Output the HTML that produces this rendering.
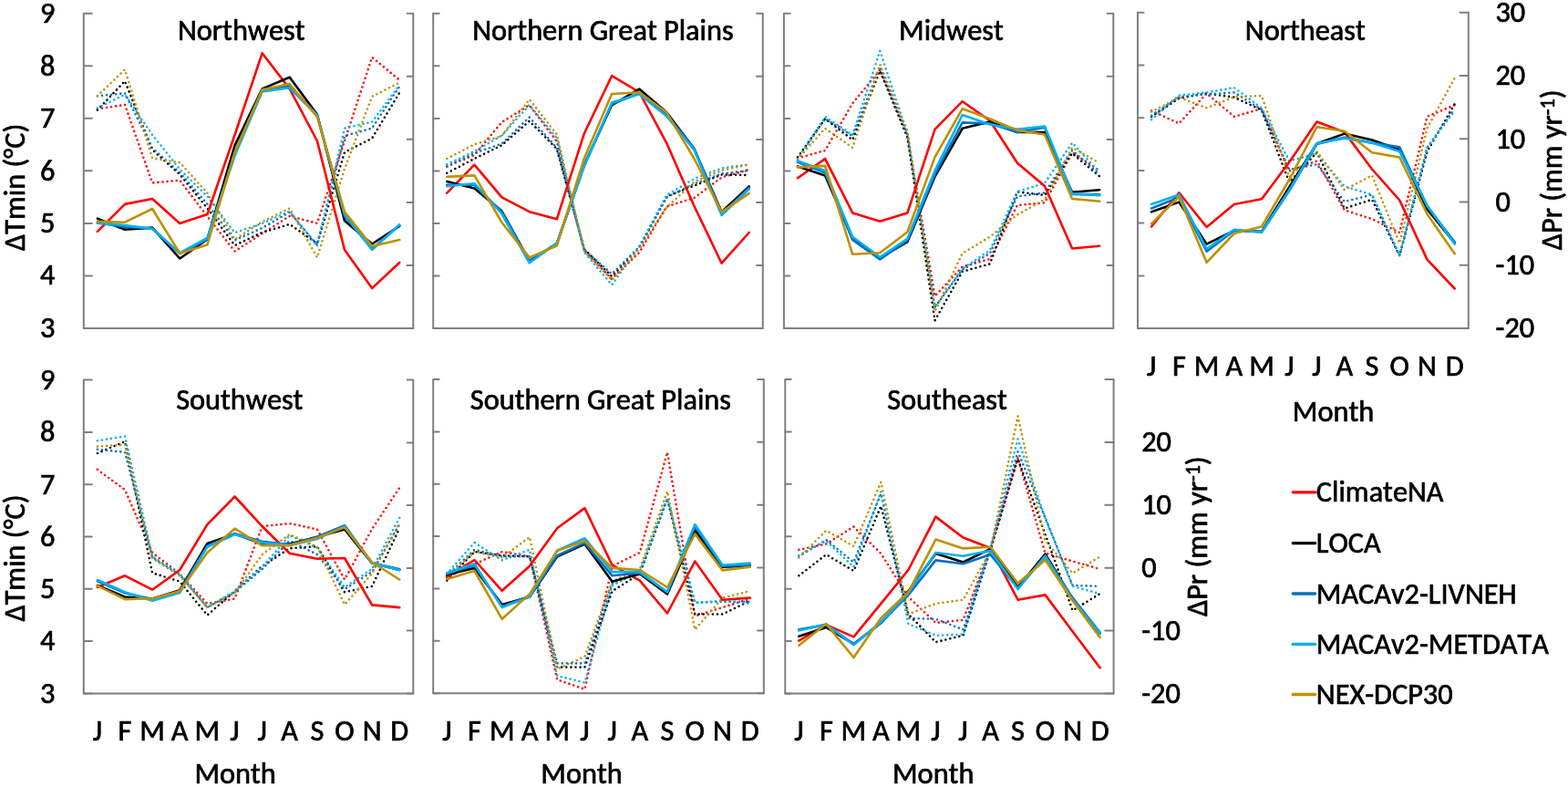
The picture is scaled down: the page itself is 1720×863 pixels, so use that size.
<!DOCTYPE html>
<html><head><meta charset="utf-8"><title>Figure</title>
<style>html,body{margin:0;padding:0;background:#fff;width:1720px;height:863px;overflow:hidden}svg{display:block}</style>
</head><body>
<svg width="1720" height="863" viewBox="0 0 1720 863">
<g font-family='Carlito, "Liberation Sans", sans-serif' font-size="32.3" fill="#000" stroke="#000" stroke-width="0.7" stroke-linejoin="round" style="font-kerning:none">
<path d="M91.8 14.7V360.0H453.3V14.7" fill="none" stroke="#7f7f7f" stroke-width="2" stroke-linejoin="round"/>
<path d="M91.8 14.7h9M91.8 72.2h9M91.8 129.8h9M91.8 187.3h9M91.8 244.9h9M91.8 302.4h9M91.8 360.0h9M453.3 14.7h-6.7M453.3 83.8h-6.7M453.3 152.8h-6.7M453.3 221.9h-6.7M453.3 290.9h-6.7M453.3 360.0h-6.7" stroke="#7f7f7f" stroke-width="2" stroke-linecap="round"/>
<text x="264.7" y="44.0" text-anchor="middle" textLength="139.55" lengthAdjust="spacingAndGlyphs">Northwest</text>
<polyline points="106.9,119.5 137.0,114.9 167.1,200.5 197.2,197.7 227.4,237.4 257.5,275.6 287.6,256.0 317.7,237.0 347.9,244.9 378.0,154.5 408.1,62.8 438.2,87.8" fill="none" stroke="#ff0000" stroke-width="2.6" stroke-dasharray="0 5.1" stroke-linecap="round"/>
<polyline points="106.9,120.6 137.0,88.9 167.1,164.3 197.2,191.2 227.4,228.3 257.5,269.1 287.6,254.9 317.7,245.9 347.9,267.1 378.0,167.0 408.1,151.7 438.2,101.7" fill="none" stroke="#000000" stroke-width="2.6" stroke-dasharray="0 5.1" stroke-linecap="round"/>
<polyline points="106.9,105.2 137.0,102.2 167.1,162.4 197.2,189.3 227.4,223.6 257.5,263.5 287.6,250.0 317.7,232.8 347.9,268.5 378.0,149.0 408.1,140.6 438.2,94.8" fill="none" stroke="#0070c0" stroke-width="2.6" stroke-dasharray="0 5.1" stroke-linecap="round"/>
<polyline points="106.9,118.5 137.0,103.7 167.1,147.8 197.2,185.6 227.4,215.3 257.5,255.2 287.6,245.0 317.7,231.7 347.9,269.9 378.0,140.6 408.1,133.7 438.2,93.4" fill="none" stroke="#00b0f0" stroke-width="2.6" stroke-dasharray="0 5.1" stroke-linecap="round"/>
<polyline points="106.9,105.2 137.0,76.3 167.1,173.6 197.2,178.2 227.4,211.6 257.5,262.6 287.6,243.3 317.7,228.5 347.9,282.4 378.0,185.0 408.1,105.9 438.2,90.6" fill="none" stroke="#bf9000" stroke-width="2.6" stroke-dasharray="0 5.1" stroke-linecap="round"/>
<polyline points="106.9,253.9 137.0,223.9 167.1,218.0 197.2,245.0 227.4,235.0 257.5,148.0 287.6,58.3 317.7,97.4 347.9,154.5 378.0,274.0 408.1,316.1 438.2,288.0" fill="none" stroke="#ff0000" stroke-width="2.6" stroke-linejoin="round" stroke-linecap="round"/>
<polyline points="106.9,239.7 137.0,251.8 167.1,249.6 197.2,283.5 227.4,262.5 257.5,159.6 287.6,97.4 317.7,84.7 347.9,125.5 378.0,242.1 408.1,267.5 438.2,248.0" fill="none" stroke="#000000" stroke-width="2.6" stroke-linejoin="round" stroke-linecap="round"/>
<polyline points="106.9,244.4 137.0,248.6 167.1,250.7 197.2,278.1 227.4,262.3 257.5,168.0 287.6,98.0 317.7,94.2 347.9,126.0 378.0,237.0 408.1,272.9 438.2,247.1" fill="none" stroke="#0070c0" stroke-width="2.6" stroke-linejoin="round" stroke-linecap="round"/>
<polyline points="106.9,244.4 137.0,247.1 167.1,250.7 197.2,277.5 227.4,261.0 257.5,170.8 287.6,100.5 317.7,96.3 347.9,126.7 378.0,235.1 408.1,274.0 438.2,246.3" fill="none" stroke="#00b0f0" stroke-width="2.6" stroke-linejoin="round" stroke-linecap="round"/>
<polyline points="106.9,242.9 137.0,243.7 167.1,229.0 197.2,277.8 227.4,268.5 257.5,167.0 287.6,98.4 317.7,92.1 347.9,128.1 378.0,232.4 408.1,270.0 438.2,263.0" fill="none" stroke="#bf9000" stroke-width="2.6" stroke-linejoin="round" stroke-linecap="round"/>
<path d="M475.2 14.8V360.0H836.8V14.8" fill="none" stroke="#7f7f7f" stroke-width="2" stroke-linejoin="round"/>
<path d="M475.2 14.8h6.5M475.2 72.3h6.5M475.2 129.9h6.5M475.2 187.4h6.5M475.2 244.9h6.5M475.2 302.5h6.5M475.2 360.0h6.5M836.8 14.8h-6.7M836.8 83.8h-6.7M836.8 152.9h-6.7M836.8 221.9h-6.7M836.8 291.0h-6.7M836.8 360.0h-6.7" stroke="#7f7f7f" stroke-width="2" stroke-linecap="round"/>
<text x="661.4" y="44.0" text-anchor="middle" textLength="286.41" lengthAdjust="spacingAndGlyphs">Northern Great Plains</text>
<polyline points="490.3,182.4 520.4,170.0 550.5,133.9 580.7,115.3 610.8,155.0 640.9,275.0 671.1,305.8 701.2,277.0 731.3,226.5 761.5,217.0 791.6,194.5 821.7,186.0" fill="none" stroke="#ff0000" stroke-width="2.6" stroke-dasharray="0 5.1" stroke-linecap="round"/>
<polyline points="490.3,189.8 520.4,174.0 550.5,159.2 580.7,132.8 610.8,163.3 640.9,273.3 671.1,303.1 701.2,272.0 731.3,215.3 761.5,203.7 791.6,191.5 821.7,192.0" fill="none" stroke="#000000" stroke-width="2.6" stroke-dasharray="0 5.1" stroke-linecap="round"/>
<polyline points="490.3,182.4 520.4,168.0 550.5,157.5 580.7,128.6 610.8,162.0 640.9,274.0 671.1,300.4 701.2,271.0 731.3,216.3 761.5,201.6 791.6,190.5 821.7,187.0" fill="none" stroke="#0070c0" stroke-width="2.6" stroke-dasharray="0 5.1" stroke-linecap="round"/>
<polyline points="490.3,180.3 520.4,166.0 550.5,148.5 580.7,115.3 610.8,151.3 640.9,276.5 671.1,312.4 701.2,270.0 731.3,214.0 761.5,196.0 791.6,184.5 821.7,180.3" fill="none" stroke="#00b0f0" stroke-width="2.6" stroke-dasharray="0 5.1" stroke-linecap="round"/>
<polyline points="490.3,174.0 520.4,158.4 550.5,149.0 580.7,109.0 610.8,147.3 640.9,275.5 671.1,307.1 701.2,273.0 731.3,227.4 761.5,199.5 791.6,186.8 821.7,180.3" fill="none" stroke="#bf9000" stroke-width="2.6" stroke-dasharray="0 5.1" stroke-linecap="round"/>
<polyline points="490.3,211.7 520.4,180.7 550.5,216.3 580.7,232.2 610.8,240.3 640.9,146.2 671.1,83.2 701.2,101.0 731.3,157.1 761.5,226.0 791.6,288.7 821.7,255.0" fill="none" stroke="#ff0000" stroke-width="2.6" stroke-linejoin="round" stroke-linecap="round"/>
<polyline points="490.3,199.0 520.4,206.5 550.5,231.6 580.7,286.2 610.8,267.2 640.9,181.0 671.1,115.3 701.2,97.5 731.3,123.3 761.5,163.4 791.6,232.4 821.7,204.5" fill="none" stroke="#000000" stroke-width="2.6" stroke-linejoin="round" stroke-linecap="round"/>
<polyline points="490.3,202.8 520.4,202.8 550.5,232.4 580.7,286.2 610.8,267.2 640.9,181.0 671.1,114.0 701.2,102.5 731.3,125.5 761.5,163.0 791.6,234.5 821.7,206.0" fill="none" stroke="#0070c0" stroke-width="2.6" stroke-linejoin="round" stroke-linecap="round"/>
<polyline points="490.3,204.2 520.4,201.2 550.5,234.5 580.7,288.3 610.8,266.6 640.9,182.5 671.1,112.5 701.2,103.3 731.3,127.5 761.5,164.5 791.6,236.0 821.7,207.3" fill="none" stroke="#00b0f0" stroke-width="2.6" stroke-linejoin="round" stroke-linecap="round"/>
<polyline points="490.3,193.9 520.4,192.4 550.5,244.0 580.7,282.4 610.8,269.5 640.9,173.5 671.1,103.0 701.2,101.2 731.3,123.3 761.5,174.0 791.6,232.4 821.7,212.2" fill="none" stroke="#bf9000" stroke-width="2.6" stroke-linejoin="round" stroke-linecap="round"/>
<path d="M859.9 14.8V360.0H1221.3V14.8" fill="none" stroke="#7f7f7f" stroke-width="2" stroke-linejoin="round"/>
<path d="M859.9 14.8h6.5M859.9 72.3h6.5M859.9 129.9h6.5M859.9 187.4h6.5M859.9 244.9h6.5M859.9 302.5h6.5M859.9 360.0h6.5M1221.3 14.8h-6.7M1221.3 83.8h-6.7M1221.3 152.9h-6.7M1221.3 221.9h-6.7M1221.3 291.0h-6.7M1221.3 360.0h-6.7" stroke="#7f7f7f" stroke-width="2" stroke-linecap="round"/>
<text x="1043.4" y="44.0" text-anchor="middle" textLength="114.61" lengthAdjust="spacingAndGlyphs">Midwest</text>
<polyline points="875.0,173.5 905.1,165.0 935.2,113.3 965.3,76.7 995.4,148.0 1025.5,324.8 1055.7,292.5 1085.8,284.1 1115.9,225.0 1146.0,222.4 1176.1,167.1 1206.2,187.2" fill="none" stroke="#ff0000" stroke-width="2.6" stroke-dasharray="0 5.1" stroke-linecap="round"/>
<polyline points="875.0,172.4 905.1,130.2 935.2,153.4 965.3,77.6 995.4,150.7 1025.5,351.5 1055.7,297.8 1085.8,289.4 1115.9,210.3 1146.0,214.0 1176.1,168.2 1206.2,193.5" fill="none" stroke="#000000" stroke-width="2.6" stroke-dasharray="0 5.1" stroke-linecap="round"/>
<polyline points="875.0,174.5 905.1,130.2 935.2,149.2 965.3,73.2 995.4,147.5 1025.5,336.9 1055.7,295.7 1085.8,277.8 1115.9,215.5 1146.0,211.3 1176.1,165.0 1206.2,191.4" fill="none" stroke="#0070c0" stroke-width="2.6" stroke-dasharray="0 5.1" stroke-linecap="round"/>
<polyline points="875.0,174.5 905.1,128.1 935.2,148.1 965.3,55.8 995.4,147.0 1025.5,336.6 1055.7,294.6 1085.8,274.6 1115.9,210.3 1146.0,200.8 1176.1,156.6 1206.2,189.3" fill="none" stroke="#00b0f0" stroke-width="2.6" stroke-dasharray="0 5.1" stroke-linecap="round"/>
<polyline points="875.0,174.5 905.1,140.8 935.2,161.9 965.3,70.8 995.4,143.5 1025.5,341.5 1055.7,277.8 1085.8,259.8 1115.9,235.5 1146.0,218.7 1176.1,161.9 1206.2,178.7" fill="none" stroke="#bf9000" stroke-width="2.6" stroke-dasharray="0 5.1" stroke-linecap="round"/>
<polyline points="875.0,195.3 905.1,174.1 935.2,233.4 965.3,242.7 995.4,233.4 1025.5,141.8 1055.7,111.2 1085.8,132.3 1115.9,178.7 1146.0,204.1 1176.1,272.5 1206.2,269.7" fill="none" stroke="#ff0000" stroke-width="2.6" stroke-linejoin="round" stroke-linecap="round"/>
<polyline points="875.0,182.5 905.1,192.5 935.2,261.9 965.3,283.0 995.4,265.1 1025.5,193.7 1055.7,140.8 1085.8,133.4 1115.9,145.0 1146.0,145.0 1176.1,210.7 1206.2,208.2" fill="none" stroke="#000000" stroke-width="2.6" stroke-linejoin="round" stroke-linecap="round"/>
<polyline points="875.0,177.7 905.1,189.3 935.2,263.0 965.3,284.5 995.4,263.4 1025.5,191.4 1055.7,134.4 1085.8,135.5 1115.9,145.0 1146.0,139.7 1176.1,212.9 1206.2,213.4" fill="none" stroke="#0070c0" stroke-width="2.6" stroke-linejoin="round" stroke-linecap="round"/>
<polyline points="875.0,176.6 905.1,187.2 935.2,259.8 965.3,282.0 995.4,261.9 1025.5,187.2 1055.7,126.0 1085.8,136.5 1115.9,141.8 1146.0,138.6 1176.1,212.4 1206.2,214.1" fill="none" stroke="#00b0f0" stroke-width="2.6" stroke-linejoin="round" stroke-linecap="round"/>
<polyline points="875.0,183.4 905.1,181.9 935.2,278.8 965.3,277.3 995.4,254.3 1025.5,172.4 1055.7,119.2 1085.8,130.2 1115.9,142.9 1146.0,147.5 1176.1,218.0 1206.2,220.7" fill="none" stroke="#bf9000" stroke-width="2.6" stroke-linejoin="round" stroke-linecap="round"/>
<path d="M1248.0 13.7V360.1H1610.8V13.7" fill="none" stroke="#7f7f7f" stroke-width="2" stroke-linejoin="round"/>
<path d="M1248.0 13.7h6.5M1248.0 71.4h6.5M1248.0 129.2h6.5M1248.0 186.9h6.5M1248.0 244.6h6.5M1248.0 302.4h6.5M1248.0 360.1h6.5M1610.8 13.7h-9.3M1610.8 83.0h-9.3M1610.8 152.3h-9.3M1610.8 221.5h-9.3M1610.8 290.8h-9.3M1610.8 360.1h-9.3" stroke="#7f7f7f" stroke-width="2" stroke-linecap="round"/>
<text x="1431.8" y="44.0" text-anchor="middle" textLength="131.92" lengthAdjust="spacingAndGlyphs">Northeast</text>
<polyline points="1263.1,121.5 1293.3,135.3 1323.6,102.5 1353.8,127.9 1384.0,119.2 1414.3,187.6 1444.5,176.5 1474.8,230.5 1505.0,240.1 1535.2,254.9 1565.5,127.9 1595.7,115.2" fill="none" stroke="#ff0000" stroke-width="2.6" stroke-dasharray="0 5.1" stroke-linecap="round"/>
<polyline points="1263.1,127.9 1293.3,107.8 1323.6,102.4 1353.8,106.7 1384.0,120.8 1414.3,200.0 1444.5,167.2 1474.8,228.6 1505.0,218.8 1535.2,280.4 1565.5,166.1 1595.7,114.1" fill="none" stroke="#000000" stroke-width="2.6" stroke-dasharray="0 5.1" stroke-linecap="round"/>
<polyline points="1263.1,126.9 1293.3,106.3 1323.6,103.5 1353.8,101.4 1384.0,120.2 1414.3,186.0 1444.5,180.2 1474.8,221.2 1505.0,213.5 1535.2,280.4 1565.5,161.9 1595.7,119.4" fill="none" stroke="#0070c0" stroke-width="2.6" stroke-dasharray="0 5.1" stroke-linecap="round"/>
<polyline points="1263.1,131.1 1293.3,104.6 1323.6,101.4 1353.8,96.1 1384.0,118.5 1414.3,176.5 1444.5,168.5 1474.8,204.3 1505.0,213.5 1535.2,280.4 1565.5,161.9 1595.7,121.5" fill="none" stroke="#00b0f0" stroke-width="2.6" stroke-dasharray="0 5.1" stroke-linecap="round"/>
<polyline points="1263.1,122.6 1293.3,106.7 1323.6,118.4 1353.8,106.3 1384.0,105.0 1414.3,194.0 1444.5,166.0 1474.8,208.2 1505.0,192.3 1535.2,266.6 1565.5,140.6 1595.7,85.5" fill="none" stroke="#bf9000" stroke-width="2.6" stroke-dasharray="0 5.1" stroke-linecap="round"/>
<polyline points="1263.1,248.5 1293.3,211.3 1323.6,249.0 1353.8,224.0 1384.0,218.3 1414.3,177.8 1444.5,133.5 1474.8,144.9 1505.0,185.5 1535.2,219.5 1565.5,284.6 1595.7,316.5" fill="none" stroke="#ff0000" stroke-width="2.6" stroke-linejoin="round" stroke-linecap="round"/>
<polyline points="1263.1,232.4 1293.3,221.6 1323.6,267.6 1353.8,252.8 1384.0,253.9 1414.3,205.0 1444.5,157.5 1474.8,146.6 1505.0,153.4 1535.2,164.0 1565.5,229.4 1595.7,266.6" fill="none" stroke="#000000" stroke-width="2.6" stroke-linejoin="round" stroke-linecap="round"/>
<polyline points="1263.1,228.5 1293.3,216.4 1323.6,275.7 1353.8,252.8 1384.0,254.5 1414.3,209.0 1444.5,158.0 1474.8,150.8 1505.0,156.6 1535.2,161.4 1565.5,226.3 1595.7,265.5" fill="none" stroke="#0070c0" stroke-width="2.6" stroke-linejoin="round" stroke-linecap="round"/>
<polyline points="1263.1,224.0 1293.3,213.4 1323.6,273.0 1353.8,251.7 1384.0,254.5 1414.3,208.4 1444.5,157.1 1474.8,151.7 1505.0,156.6 1535.2,166.1 1565.5,225.2 1595.7,267.6" fill="none" stroke="#00b0f0" stroke-width="2.6" stroke-linejoin="round" stroke-linecap="round"/>
<polyline points="1263.1,245.4 1293.3,215.8 1323.6,287.8 1353.8,256.0 1384.0,248.5 1414.3,197.0 1444.5,139.2 1474.8,143.8 1505.0,167.2 1535.2,172.5 1565.5,234.8 1595.7,278.3" fill="none" stroke="#bf9000" stroke-width="2.6" stroke-linejoin="round" stroke-linecap="round"/>
<path d="M91.8 416.6V760.4H453.3V416.6" fill="none" stroke="#7f7f7f" stroke-width="2" stroke-linejoin="round"/>
<path d="M91.8 416.6h9M91.8 473.9h9M91.8 531.2h9M91.8 588.5h9M91.8 645.8h9M91.8 703.1h9M91.8 760.4h9M453.3 416.6h-6.7M453.3 485.4h-6.7M453.3 554.1h-6.7M453.3 622.9h-6.7M453.3 691.6h-6.7M453.3 760.4h-6.7" stroke="#7f7f7f" stroke-width="2" stroke-linecap="round"/>
<text x="262.8" y="449.3" text-anchor="middle" textLength="139.23" lengthAdjust="spacingAndGlyphs">Southwest</text>
<polyline points="106.9,514.9 137.0,537.1 167.1,606.0 197.2,629.2 227.4,661.9 257.5,656.6 287.6,577.2 317.7,574.0 347.9,580.4 378.0,635.5 408.1,580.0 438.2,535.0" fill="none" stroke="#ff0000" stroke-width="2.6" stroke-dasharray="0 5.1" stroke-linecap="round"/>
<polyline points="106.9,497.0 137.0,484.3 167.1,628.2 197.2,637.7 227.4,674.6 257.5,648.2 287.6,620.8 317.7,601.3 347.9,599.2 378.0,649.3 408.1,642.9 438.2,579.3" fill="none" stroke="#000000" stroke-width="2.6" stroke-dasharray="0 5.1" stroke-linecap="round"/>
<polyline points="106.9,492.8 137.0,495.9 167.1,611.3 197.2,630.2 227.4,666.1 257.5,649.3 287.6,624.0 317.7,593.0 347.9,608.0 378.0,646.1 408.1,627.1 438.2,575.0" fill="none" stroke="#0070c0" stroke-width="2.6" stroke-dasharray="0 5.1" stroke-linecap="round"/>
<polyline points="106.9,483.3 137.0,478.4 167.1,610.2 197.2,629.2 227.4,666.1 257.5,648.2 287.6,622.0 317.7,587.0 347.9,600.6 378.0,644.0 408.1,623.9 438.2,567.7" fill="none" stroke="#00b0f0" stroke-width="2.6" stroke-dasharray="0 5.1" stroke-linecap="round"/>
<polyline points="106.9,489.6 137.0,487.5 167.1,612.3 197.2,631.3 227.4,666.1 257.5,650.3 287.6,608.1 317.7,586.0 347.9,599.5 378.0,663.0 408.1,629.0 438.2,574.0" fill="none" stroke="#bf9000" stroke-width="2.6" stroke-dasharray="0 5.1" stroke-linecap="round"/>
<polyline points="106.9,644.0 137.0,631.3 167.1,646.7 197.2,625.0 227.4,575.1 257.5,544.5 287.6,577.2 317.7,606.8 347.9,612.7 378.0,612.0 408.1,663.4 438.2,666.1" fill="none" stroke="#ff0000" stroke-width="2.6" stroke-linejoin="round" stroke-linecap="round"/>
<polyline points="106.9,641.9 137.0,654.5 167.1,656.6 197.2,647.2 227.4,595.9 257.5,585.6 287.6,596.2 317.7,596.6 347.9,588.8 378.0,580.4 408.1,617.6 438.2,625.0" fill="none" stroke="#000000" stroke-width="2.6" stroke-linejoin="round" stroke-linecap="round"/>
<polyline points="106.9,637.2 137.0,650.3 167.1,657.1 197.2,648.2 227.4,598.6 257.5,585.2 287.6,593.7 317.7,597.2 347.9,588.8 378.0,576.1 408.1,617.6 438.2,623.9" fill="none" stroke="#0070c0" stroke-width="2.6" stroke-linejoin="round" stroke-linecap="round"/>
<polyline points="106.9,636.0 137.0,649.3 167.1,658.8 197.2,649.9 227.4,599.7 257.5,586.1 287.6,595.1 317.7,597.9 347.9,590.9 378.0,577.2 408.1,617.6 438.2,625.0" fill="none" stroke="#00b0f0" stroke-width="2.6" stroke-linejoin="round" stroke-linecap="round"/>
<polyline points="106.9,642.3 137.0,657.1 167.1,656.2 197.2,648.2 227.4,606.0 257.5,579.7 287.6,598.3 317.7,598.3 347.9,589.9 378.0,578.2 408.1,616.5 438.2,635.5" fill="none" stroke="#bf9000" stroke-width="2.6" stroke-linejoin="round" stroke-linecap="round"/>
<path d="M475.2 416.0V760.2H837.8V416.0" fill="none" stroke="#7f7f7f" stroke-width="2" stroke-linejoin="round"/>
<path d="M475.2 416.0h6.5M475.2 473.4h6.5M475.2 530.7h6.5M475.2 588.1h6.5M475.2 645.5h6.5M475.2 702.8h6.5M475.2 760.2h6.5M837.8 416.0h-6.7M837.8 484.8h-6.7M837.8 553.7h-6.7M837.8 622.5h-6.7M837.8 691.4h-6.7M837.8 760.2h-6.7" stroke="#7f7f7f" stroke-width="2" stroke-linecap="round"/>
<text x="658.9" y="449.3" text-anchor="middle" textLength="286.11" lengthAdjust="spacingAndGlyphs">Southern Great Plains</text>
<polyline points="490.3,633.4 520.5,618.7 550.7,605.0 581.0,610.2 611.2,745.3 641.4,755.8 671.6,620.8 701.8,606.0 732.0,495.9 762.3,675.6 792.5,666.1 822.7,656.6" fill="none" stroke="#ff0000" stroke-width="2.6" stroke-dasharray="0 5.1" stroke-linecap="round"/>
<polyline points="490.3,636.6 520.5,605.0 550.7,609.2 581.0,610.2 611.2,731.6 641.4,731.6 671.6,648.2 701.8,629.2 732.0,546.6 762.3,673.5 792.5,673.5 822.7,658.8" fill="none" stroke="#000000" stroke-width="2.6" stroke-dasharray="0 5.1" stroke-linecap="round"/>
<polyline points="490.3,631.3 520.5,602.8 550.7,610.2 581.0,610.2 611.2,727.4 641.4,727.4 671.6,639.8 701.8,628.2 732.0,547.0 762.3,660.9 792.5,659.8 822.7,659.8" fill="none" stroke="#0070c0" stroke-width="2.6" stroke-dasharray="0 5.1" stroke-linecap="round"/>
<polyline points="490.3,629.2 520.5,595.0 550.7,614.4 581.0,602.8 611.2,741.1 641.4,748.5 671.6,641.9 701.8,627.1 732.0,546.6 762.3,660.9 792.5,658.8 822.7,661.9" fill="none" stroke="#00b0f0" stroke-width="2.6" stroke-dasharray="0 5.1" stroke-linecap="round"/>
<polyline points="490.3,632.4 520.5,605.0 550.7,611.3 581.0,589.1 611.2,733.7 641.4,720.0 671.6,637.7 701.8,624.0 732.0,538.8 762.3,690.4 792.5,655.6 822.7,648.2" fill="none" stroke="#bf9000" stroke-width="2.6" stroke-dasharray="0 5.1" stroke-linecap="round"/>
<polyline points="490.3,632.4 520.5,614.0 550.7,647.8 581.0,620.8 611.2,579.3 641.4,557.1 671.6,619.7 701.8,636.6 732.0,672.5 762.3,615.5 792.5,657.7 822.7,655.6" fill="none" stroke="#ff0000" stroke-width="2.6" stroke-linejoin="round" stroke-linecap="round"/>
<polyline points="490.3,630.3 520.5,622.9 550.7,663.0 581.0,654.5 611.2,610.2 641.4,596.5 671.6,637.7 701.8,629.2 732.0,651.4 762.3,581.4 792.5,621.8 822.7,620.8" fill="none" stroke="#000000" stroke-width="2.6" stroke-linejoin="round" stroke-linecap="round"/>
<polyline points="490.3,629.2 520.5,619.7 550.7,665.1 581.0,653.5 611.2,609.2 641.4,595.4 671.6,631.3 701.8,628.2 732.0,649.3 762.3,577.2 792.5,620.8 822.7,619.7" fill="none" stroke="#0070c0" stroke-width="2.6" stroke-linejoin="round" stroke-linecap="round"/>
<polyline points="490.3,628.2 520.5,618.2 550.7,666.1 581.0,654.5 611.2,603.6 641.4,590.3 671.6,627.1 701.8,627.1 732.0,649.3 762.3,575.1 792.5,619.7 822.7,617.6" fill="none" stroke="#00b0f0" stroke-width="2.6" stroke-linejoin="round" stroke-linecap="round"/>
<polyline points="490.3,635.1 520.5,626.0 550.7,678.8 581.0,651.4 611.2,603.9 641.4,593.3 671.6,622.9 701.8,625.0 732.0,644.0 762.3,585.6 792.5,625.4 822.7,621.8" fill="none" stroke="#bf9000" stroke-width="2.6" stroke-linejoin="round" stroke-linecap="round"/>
<path d="M861.3 416.0V760.5H1221.6V416.0" fill="none" stroke="#7f7f7f" stroke-width="2" stroke-linejoin="round"/>
<path d="M861.3 416.0h6.5M861.3 473.4h6.5M861.3 530.8h6.5M861.3 588.2h6.5M861.3 645.7h6.5M861.3 703.1h6.5M861.3 760.5h6.5M1221.6 416.0h-9.3M1221.6 484.9h-9.3M1221.6 553.8h-9.3M1221.6 622.7h-9.3M1221.6 691.6h-9.3M1221.6 760.5h-9.3" stroke="#7f7f7f" stroke-width="2" stroke-linecap="round"/>
<text x="1039.0" y="449.3" text-anchor="middle" textLength="131.62" lengthAdjust="spacingAndGlyphs">Southeast</text>
<polyline points="876.3,602.8 906.3,596.5 936.4,577.6 966.4,607.0 996.4,654.5 1026.4,683.0 1056.5,679.9 1086.5,602.0 1116.5,502.0 1146.5,606.6 1176.6,615.5 1206.6,624.0" fill="none" stroke="#ff0000" stroke-width="2.6" stroke-dasharray="0 5.1" stroke-linecap="round"/>
<polyline points="876.3,631.3 906.3,608.1 936.4,626.0 966.4,555.0 996.4,673.5 1026.4,704.1 1056.5,696.8 1086.5,603.0 1116.5,503.0 1146.5,585.7 1176.6,669.5 1206.6,651.0" fill="none" stroke="#000000" stroke-width="2.6" stroke-dasharray="0 5.1" stroke-linecap="round"/>
<polyline points="876.3,610.2 906.3,592.0 936.4,616.5 966.4,541.3 996.4,677.8 1026.4,678.8 1056.5,690.4 1086.5,601.0 1116.5,495.3 1146.5,567.8 1176.6,641.8 1206.6,643.0" fill="none" stroke="#0070c0" stroke-width="2.6" stroke-dasharray="0 5.1" stroke-linecap="round"/>
<polyline points="876.3,609.0 906.3,593.0 936.4,621.8 966.4,539.2 996.4,684.1 1026.4,696.8 1056.5,695.7 1086.5,600.0 1116.5,481.5 1146.5,567.8 1176.6,643.0 1206.6,651.0" fill="none" stroke="#00b0f0" stroke-width="2.6" stroke-dasharray="0 5.1" stroke-linecap="round"/>
<polyline points="876.3,611.5 906.3,581.8 936.4,599.0 966.4,528.6 996.4,673.5 1026.4,662.0 1056.5,657.7 1086.5,604.0 1116.5,456.3 1146.5,592.7 1176.6,628.5 1206.6,610.5" fill="none" stroke="#bf9000" stroke-width="2.6" stroke-dasharray="0 5.1" stroke-linecap="round"/>
<polyline points="876.3,702.7 906.3,685.1 936.4,698.4 966.4,661.9 996.4,625.0 1026.4,566.6 1056.5,589.5 1086.5,601.0 1116.5,657.7 1146.5,652.4 1176.6,692.5 1206.6,732.2" fill="none" stroke="#ff0000" stroke-width="2.6" stroke-linejoin="round" stroke-linecap="round"/>
<polyline points="876.3,697.8 906.3,687.9 936.4,706.2 966.4,683.0 996.4,648.2 1026.4,607.0 1056.5,616.5 1086.5,601.8 1116.5,644.0 1146.5,607.5 1176.6,656.6 1206.6,694.6" fill="none" stroke="#000000" stroke-width="2.6" stroke-linejoin="round" stroke-linecap="round"/>
<polyline points="876.3,690.4 906.3,685.1 936.4,706.2 966.4,683.0 996.4,652.4 1026.4,614.4 1056.5,618.2 1086.5,608.1 1116.5,645.0 1146.5,610.2 1176.6,655.6 1206.6,693.6" fill="none" stroke="#0070c0" stroke-width="2.6" stroke-linejoin="round" stroke-linecap="round"/>
<polyline points="876.3,691.5 906.3,684.5 936.4,707.3 966.4,682.0 996.4,650.3 1026.4,606.0 1056.5,609.8 1086.5,603.9 1116.5,646.1 1146.5,609.5 1176.6,657.7 1206.6,694.6" fill="none" stroke="#00b0f0" stroke-width="2.6" stroke-linejoin="round" stroke-linecap="round"/>
<polyline points="876.3,707.7 906.3,684.1 936.4,721.0 966.4,677.8 996.4,649.3 1026.4,591.6 1056.5,601.4 1086.5,599.7 1116.5,639.8 1146.5,614.0 1176.6,658.8 1206.6,698.9" fill="none" stroke="#bf9000" stroke-width="2.6" stroke-linejoin="round" stroke-linecap="round"/>
<text x="60.4" y="25.2" text-anchor="end">9</text>
<text x="60.4" y="82.7" text-anchor="end">8</text>
<text x="60.4" y="140.1" text-anchor="end">7</text>
<text x="60.4" y="197.6" text-anchor="end">6</text>
<text x="60.4" y="255.0" text-anchor="end">5</text>
<text x="60.4" y="312.4" text-anchor="end">4</text>
<text x="60.4" y="369.9" text-anchor="end">3</text>
<text x="60.4" y="427.0" text-anchor="end">9</text>
<text x="60.4" y="484.3" text-anchor="end">8</text>
<text x="60.4" y="541.6" text-anchor="end">7</text>
<text x="60.4" y="598.9" text-anchor="end">6</text>
<text x="60.4" y="656.1" text-anchor="end">5</text>
<text x="60.4" y="713.4" text-anchor="end">4</text>
<text x="60.4" y="770.7" text-anchor="end">3</text>
<text x="1640.5" y="24.2" textLength="32.75" lengthAdjust="spacingAndGlyphs">30</text>
<text x="1640.5" y="93.4" textLength="32.75" lengthAdjust="spacingAndGlyphs">20</text>
<text x="1640.5" y="162.6" textLength="32.75" lengthAdjust="spacingAndGlyphs">10</text>
<text x="1640.5" y="231.9">0</text>
<text x="1640.5" y="301.1" textLength="42.64" lengthAdjust="spacingAndGlyphs">-10</text>
<text x="1640.5" y="370.3" textLength="42.64" lengthAdjust="spacingAndGlyphs">-20</text>
<text x="1252.2" y="495.3" textLength="32.75" lengthAdjust="spacingAndGlyphs">20</text>
<text x="1252.2" y="564.2" textLength="32.75" lengthAdjust="spacingAndGlyphs">10</text>
<text x="1252.2" y="633.1">0</text>
<text x="1252.2" y="702.0" textLength="42.64" lengthAdjust="spacingAndGlyphs">-10</text>
<text x="1252.2" y="770.9" textLength="42.64" lengthAdjust="spacingAndGlyphs">-20</text>
<text x="1263.1" y="412.0" text-anchor="middle">J</text>
<text x="1293.3" y="412.0" text-anchor="middle">F</text>
<text x="1323.6" y="412.0" text-anchor="middle">M</text>
<text x="1353.8" y="412.0" text-anchor="middle">A</text>
<text x="1384.0" y="412.0" text-anchor="middle">M</text>
<text x="1414.3" y="412.0" text-anchor="middle">J</text>
<text x="1444.5" y="412.0" text-anchor="middle">J</text>
<text x="1474.8" y="412.0" text-anchor="middle">A</text>
<text x="1505.0" y="412.0" text-anchor="middle">S</text>
<text x="1535.2" y="412.0" text-anchor="middle">O</text>
<text x="1565.5" y="412.0" text-anchor="middle">N</text>
<text x="1595.7" y="412.0" text-anchor="middle">D</text>
<text x="106.9" y="812.0" text-anchor="middle">J</text>
<text x="137.0" y="812.0" text-anchor="middle">F</text>
<text x="167.1" y="812.0" text-anchor="middle">M</text>
<text x="197.2" y="812.0" text-anchor="middle">A</text>
<text x="227.4" y="812.0" text-anchor="middle">M</text>
<text x="257.5" y="812.0" text-anchor="middle">J</text>
<text x="287.6" y="812.0" text-anchor="middle">J</text>
<text x="317.7" y="812.0" text-anchor="middle">A</text>
<text x="347.9" y="812.0" text-anchor="middle">S</text>
<text x="378.0" y="812.0" text-anchor="middle">O</text>
<text x="408.1" y="812.0" text-anchor="middle">N</text>
<text x="438.2" y="812.0" text-anchor="middle">D</text>
<text x="490.3" y="812.0" text-anchor="middle">J</text>
<text x="520.5" y="812.0" text-anchor="middle">F</text>
<text x="550.7" y="812.0" text-anchor="middle">M</text>
<text x="581.0" y="812.0" text-anchor="middle">A</text>
<text x="611.2" y="812.0" text-anchor="middle">M</text>
<text x="641.4" y="812.0" text-anchor="middle">J</text>
<text x="671.6" y="812.0" text-anchor="middle">J</text>
<text x="701.8" y="812.0" text-anchor="middle">A</text>
<text x="732.0" y="812.0" text-anchor="middle">S</text>
<text x="762.3" y="812.0" text-anchor="middle">O</text>
<text x="792.5" y="812.0" text-anchor="middle">N</text>
<text x="822.7" y="812.0" text-anchor="middle">D</text>
<text x="876.3" y="812.0" text-anchor="middle">J</text>
<text x="906.3" y="812.0" text-anchor="middle">F</text>
<text x="936.4" y="812.0" text-anchor="middle">M</text>
<text x="966.4" y="812.0" text-anchor="middle">A</text>
<text x="996.4" y="812.0" text-anchor="middle">M</text>
<text x="1026.4" y="812.0" text-anchor="middle">J</text>
<text x="1056.5" y="812.0" text-anchor="middle">J</text>
<text x="1086.5" y="812.0" text-anchor="middle">A</text>
<text x="1116.5" y="812.0" text-anchor="middle">S</text>
<text x="1146.5" y="812.0" text-anchor="middle">O</text>
<text x="1176.6" y="812.0" text-anchor="middle">N</text>
<text x="1206.6" y="812.0" text-anchor="middle">D</text>
<text x="1462.5" y="462.1" text-anchor="middle" textLength="89.41" lengthAdjust="spacingAndGlyphs">Month</text>
<text x="258.1" y="859.0" text-anchor="middle" textLength="89.41" lengthAdjust="spacingAndGlyphs">Month</text>
<text x="638.0" y="859.0" text-anchor="middle" textLength="89.41" lengthAdjust="spacingAndGlyphs">Month</text>
<text x="1023.7" y="859.0" text-anchor="middle" textLength="89.41" lengthAdjust="spacingAndGlyphs">Month</text>
<text transform="translate(27.2,274.9) rotate(-90)" x="0" y="0" textLength="139.2" lengthAdjust="spacingAndGlyphs">ΔTmin (°C)</text>
<text transform="translate(26.8,681.6) rotate(-90)" x="0" y="0" textLength="139.2" lengthAdjust="spacingAndGlyphs">ΔTmin (°C)</text>
<text transform="translate(1713.0,274.2) rotate(-90)" x="0" y="0" textLength="175.75" lengthAdjust="spacingAndGlyphs">ΔPr (mm yr<tspan font-size="22" dy="-8.5">-1</tspan><tspan dy="8.5">)</tspan></text>
<text transform="translate(1324.3,676.1) rotate(-90)" x="0" y="0" textLength="175.75" lengthAdjust="spacingAndGlyphs">ΔPr (mm yr<tspan font-size="22" dy="-8.5">-1</tspan><tspan dy="8.5">)</tspan></text>
<path d="M1418.3 539.8H1442.6" stroke="#ff0000" stroke-width="3.3" stroke-linecap="round"/>
<text x="1443.8" y="550.4" textLength="139.75" lengthAdjust="spacingAndGlyphs">ClimateNA</text>
<path d="M1418.3 595.7H1442.6" stroke="#000000" stroke-width="3.3" stroke-linecap="round"/>
<text x="1443.8" y="606.3" textLength="70.88" lengthAdjust="spacingAndGlyphs">LOCA</text>
<path d="M1418.3 651.0H1442.6" stroke="#0070c0" stroke-width="3.3" stroke-linecap="round"/>
<text x="1443.8" y="661.6" textLength="219.84" lengthAdjust="spacingAndGlyphs">MACAv2-LIVNEH</text>
<path d="M1418.3 706.4H1442.6" stroke="#00b0f0" stroke-width="3.3" stroke-linecap="round"/>
<text x="1443.8" y="717.0" textLength="255.17" lengthAdjust="spacingAndGlyphs">MACAv2-METDATA</text>
<path d="M1418.3 761.5H1442.6" stroke="#bf9000" stroke-width="3.3" stroke-linecap="round"/>
<text x="1443.8" y="772.1" textLength="149.8" lengthAdjust="spacingAndGlyphs">NEX-DCP30</text>
</g></svg>
</body></html>
